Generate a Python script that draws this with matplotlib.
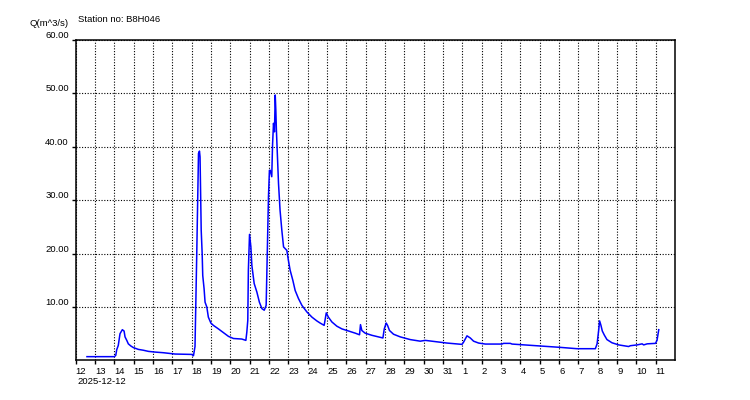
import numpy as np
import matplotlib.pyplot as plt
from matplotlib.transforms import ScaledTranslation

plt.rcParams['font.family'] = ['Liberation Sans', 'DejaVu Sans']

station = 'B8H046'
start_date = '2025-12-12'

# days since 2025-12-12 00:00 and discharge Q (m^3/s)
day = [0.58, 2.0, 2.07, 2.12, 2.2, 2.29, 2.41, 2.5, 2.55, 2.64, 2.72, 2.85, 2.98,
       3.24, 3.5, 3.76, 4.1, 4.53, 5.14, 6.0, 6.09, 6.17, 6.26, 6.35, 6.4, 6.43,
       6.49, 6.54, 6.57, 6.64, 6.69, 6.78, 6.86, 6.99, 7.12, 7.38, 7.64, 7.9, 8.16,
       8.59, 8.8, 8.85, 8.9, 8.93, 8.99, 9.06, 9.11, 9.23, 9.37, 9.5, 9.63, 9.75,
       9.85, 9.92, 9.97, 10.02, 10.06, 10.14, 10.18, 10.23, 10.28, 10.32, 10.35,
       10.38, 10.43, 10.49, 10.57, 10.66, 10.75, 10.92, 11.0, 11.09, 11.23, 11.35,
       11.52, 11.7, 11.96, 12.22, 12.47, 12.64, 12.85, 12.96, 13.07, 13.25, 13.51,
       13.77, 14.11, 14.46, 14.68, 14.73, 14.8, 14.97, 15.32, 15.66, 15.89, 15.96,
       16.06, 16.13, 16.23, 16.44, 16.79, 17.3, 17.82, 18.08, 18.51, 19.2, 19.98,
       20.06, 20.24, 20.41, 20.58, 20.84, 21.19, 22.05, 22.13, 22.48, 22.57, 23.86,
       25.07, 25.93, 26.88, 26.97, 27.05, 27.1, 27.17, 27.24, 27.35, 27.48, 27.74,
       28.09, 28.6, 28.69, 29.04, 29.3, 29.38, 29.56, 29.99, 30.07, 30.16]
flow = [0.7, 0.7, 0.94, 2.0, 2.8, 5.0, 5.75, 5.5, 4.4, 3.75, 3.1, 2.7, 2.4,
        2.06, 1.9, 1.69, 1.56, 1.44, 1.19, 1.12, 0.87, 2.6, 20.0, 38.75, 39.2, 38.1,
        24.4, 20.0, 15.9, 13.4, 10.9, 10.0, 8.1, 7.0, 6.56, 5.9, 5.2, 4.5, 4.1,
        4.0, 3.75, 5.3, 7.5, 16.9, 23.6, 21.25, 17.8, 14.4, 12.8, 10.9, 9.7, 9.4,
        10.3, 21.9, 30.6, 35.6, 35.6, 34.4, 40.3, 44.4, 42.8, 49.7, 46.9,
        43.1, 38.75, 33.1, 28.1, 24.4, 21.25, 20.6, 18.75, 16.9, 15.0, 13.1,
        11.6, 10.3, 9.06, 8.1, 7.4, 7.0, 6.56, 8.9, 8.1, 7.2, 6.4,
        5.9, 5.5, 5.1, 4.8, 6.7, 5.6, 5.1, 4.7, 4.4, 4.2, 5.9,
        7.0, 6.56, 5.6, 4.9, 4.4, 3.9, 3.6, 3.75, 3.56, 3.25, 3.0,
        3.4, 4.6, 4.2, 3.6, 3.25, 3.06, 3.06, 3.19, 3.19, 3.06, 2.75,
        2.44, 2.19, 2.19, 3.1, 5.6, 7.4, 6.56, 5.5, 4.7, 3.9, 3.3,
        2.9, 2.6, 2.75, 2.9, 3.1, 2.9, 3.1, 3.19, 3.75, 5.75]
y_ticks = [10, 20, 30, 40, 50, 60]

t0 = np.datetime64(start_date + 'T00:00')
times = t0 + (np.array(day) * 1440).astype(int).astype('timedelta64[m]')
xt = t0 + np.arange(31).astype('timedelta64[D]')

fig = plt.figure(figsize=(7.5, 4), dpi=100)
ax = fig.add_axes([0.101, 0.099, 0.799, 0.801])

ax.plot(times, flow, color='#0000ff', lw=1.1)

ax.set_xlim(t0, t0 + np.timedelta64(31, 'D'))
ax.set_ylim(0, 60)

ax.set_xticks(xt)
ax.set_xticklabels([str(t.astype(object).day) for t in xt], fontsize=6.8)
ax.set_yticks(y_ticks)
ax.set_yticklabels(['%.2f' % v for v in y_ticks], fontsize=6.8)

dx = ScaledTranslation(1.5 / 72, 0, fig.dpi_scale_trans)
for lab in ax.get_xticklabels():
    lab.set_ha('left')
    lab.set_transform(lab.get_transform() + dx)
dy = ScaledTranslation(0, 1.5 / 72, fig.dpi_scale_trans)
for lab in ax.get_yticklabels():
    lab.set_va('bottom')
    lab.set_transform(lab.get_transform() + dy)

ax.tick_params(direction='out', length=3, width=1, pad=2, colors='black')
ax.grid(True, color='black', lw=0.8, linestyle=(0, (1, 1.5)))
for s in ax.spines.values():
    s.set_linewidth(1.1)

fig.text(30 / 750, 1 - 23 / 400, 'Q(m^3/s)', fontsize=6.8, va='center')
fig.text(78 / 750, 1 - 20 / 400, 'Station no: ' + station, fontsize=6.8, va='center')
fig.text(77 / 750, 1 - 381 / 400, start_date, fontsize=6.8, va='center')

fig.savefig('out.png', dpi=100)
